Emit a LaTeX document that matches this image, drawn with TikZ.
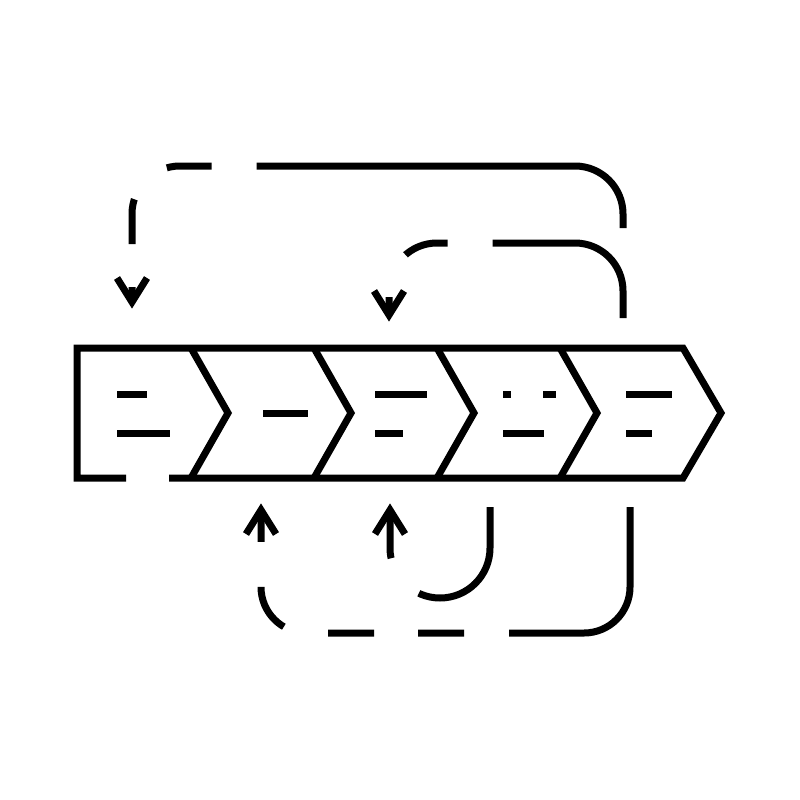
\documentclass[tikz,border=0pt]{standalone}
\begin{document}
\begin{tikzpicture}[x=1pt,y=-1pt]
\tikzset{
  ico/.style={line width=7pt, line join=miter, draw=black},
  conn/.style={ico, rounded corners=#1},
  tipv/.style={ico, line join=miter}
}
\useasboundingbox (0,0) rectangle (800,800);
\fill[white] (0,0) rectangle (800,800);
% main process bar
\draw[ico] (126,478) -- (77,478) -- (77,348) -- (683,348) -- (721,413) -- (683,478) -- (169,478);
\foreach \x in {191,314,437,560} \draw[ico] (\x,348) -- (\x+37,413) -- (\x,478);
% text dashes
\draw[ico] (117,394) -- (147,394);
\draw[ico] (117,433) -- (170,433);
\draw[ico] (263,413) -- (308,413);
\draw[ico] (375,394) -- (427,394);
\draw[ico] (375,433) -- (403,433);
\draw[ico] (503,394) -- (511,394);
\draw[ico] (543,394) -- (556,394);
\draw[ico] (503,433) -- (544,433);
\draw[ico] (626,394) -- (672,394);
\draw[ico] (626,433) -- (652,433);
% top outer connector
\draw[conn=48pt, dash pattern=on 15pt off 43pt on 45pt off 47pt on 45pt off 45pt on 2000pt]
  (132,302) -- (132,166) -- (623,166) -- (623,228);
\draw[tipv] (117,278) -- (132,302) -- (147,278);
% top inner connector
\draw[conn=48pt, dash pattern=on 18pt off 47pt on 45pt off 45pt on 2000pt]
  (389,315) -- (389,243) -- (623,243) -- (623,318);
\draw[tipv] (374,291) -- (389,315) -- (404,291);
% bottom outer connector
\draw[conn=46pt, dash pattern=on 227pt off 45pt on 46pt off 44pt on 46pt off 45.5pt on 48pt off 45pt on 200pt]
  (630,507) -- (630,633) -- (261,633) -- (261,510);
\draw[tipv] (246,534) -- (261,510) -- (276,534);
% bottom inner connector
\draw[ico, dash pattern=on 141.4pt off 46.3pt on 200pt]
  (490,507) -- (490,548) arc[start angle=0, end angle=180, radius=50] -- (390,510);
\draw[tipv] (375,534) -- (390,510) -- (405,534);
\end{tikzpicture}
\end{document}
